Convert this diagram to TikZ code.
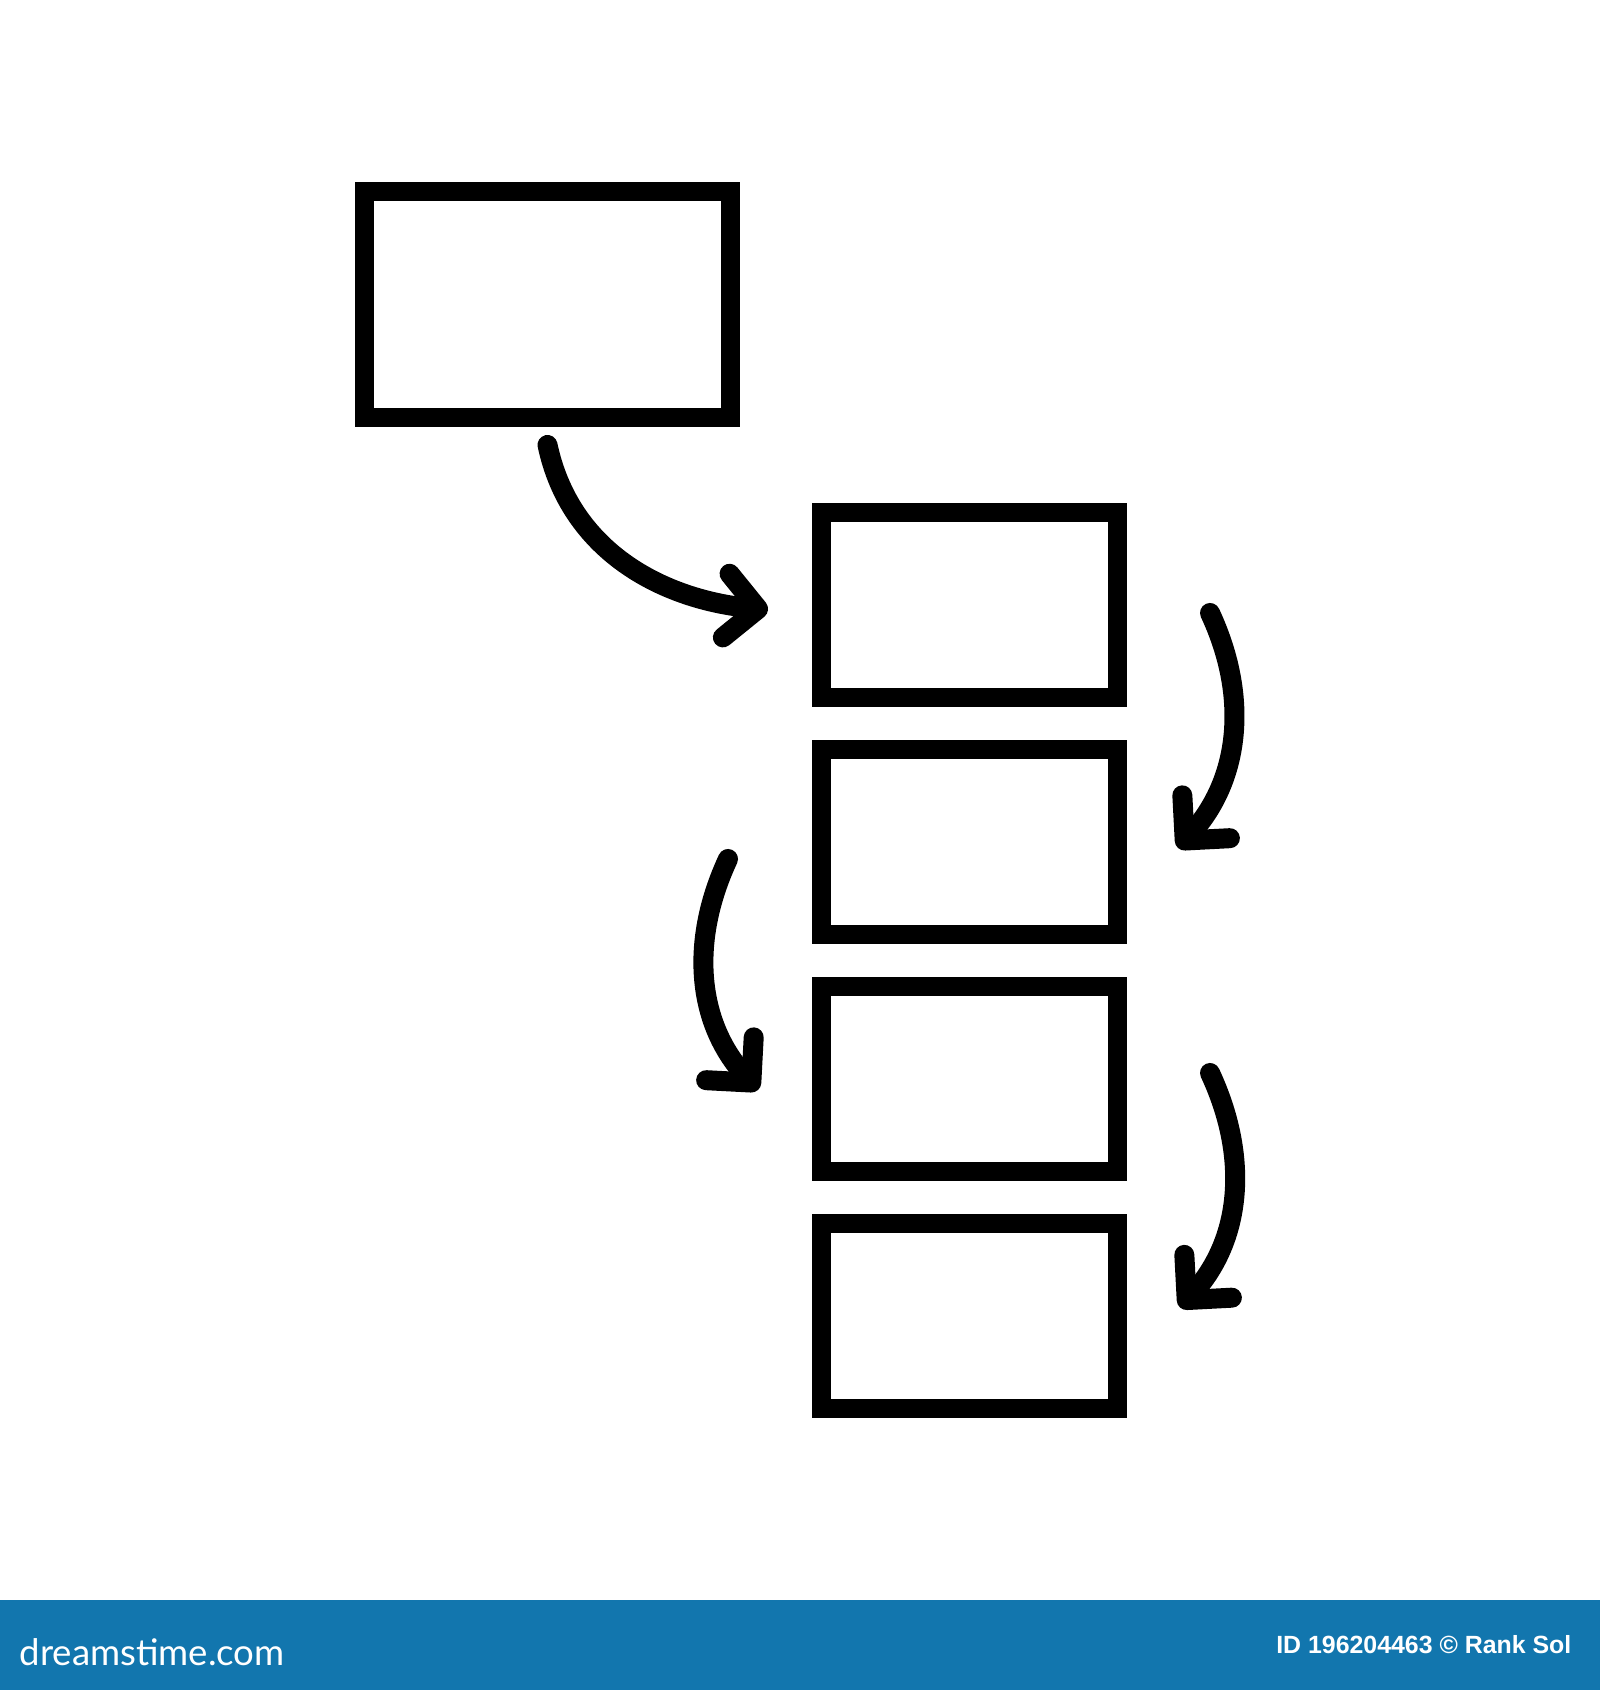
\documentclass[tikz,border=0pt]{standalone}
\usepackage{fontspec}
\usepackage{tikz}
\usetikzlibrary{positioning, arrows.meta}
\newfontfamily\idfont{Liberation Sans}
\newfontfamily\logofont{Lato}
\definecolor{dtblue}{RGB}{18,118,174}

\begin{document}
\begin{tikzpicture}[node distance=2.37cm,
  box node/.style={rectangle,draw,line width=0.19cm,minimum width=2.96cm,minimum height=1.85cm},
  big box/.style={box node,minimum width=3.66cm,minimum height=2.26cm},
  flow arrow/.style={line width=0.2cm,line cap=round,line join=round,-{Straight Barb[length=0.32cm,width=0.64cm,round]}}]

\useasboundingbox (0,0) rectangle (16,16.9);
\fill[white] (0,0) rectangle (16,16.9);

\node[big box] (T) at (5.475,13.855) {};
\node[box node] (B1) at (9.695,10.85) {};
\node[box node] (B2) [below of=B1] {};
\node[box node] (B3) [below of=B2] {};
\node[box node] (B4) [below of=B3] {};

\draw[flow arrow] ([yshift=-0.18cm]T.south) to[out=-78,in=174] ([xshift=-0.44cm,yshift=-0.05cm]B1.west);
\draw[flow arrow] ([xshift=0.83cm,yshift=-0.08cm]B1.east) to[out=-65,in=48] ([xshift=0.51cm,yshift=-0.06cm]B2.east);
\draw[flow arrow] ([xshift=-0.84cm,yshift=-0.17cm]B2.west) to[out=-115,in=132] ([xshift=-0.54cm,yshift=-0.11cm]B3.west);
\draw[flow arrow] ([xshift=0.83cm,yshift=0.06cm]B3.east) to[out=-65,in=48] ([xshift=0.53cm,yshift=0.085cm]B4.east);

\fill[dtblue] (0,0) rectangle (16,0.9);
\node[anchor=west,text=white,inner sep=0] (logo) at (0.19,0.38) {\resizebox{2.65cm}{!}{\logofont dreamstime.com}};
\node[anchor=east,text=white,inner sep=0] (credit) at (15.72,0.45) {\resizebox{2.95cm}{!}{\idfont\bfseries ID 196204463 © Rank Sol}};

\end{tikzpicture}
\end{document}
